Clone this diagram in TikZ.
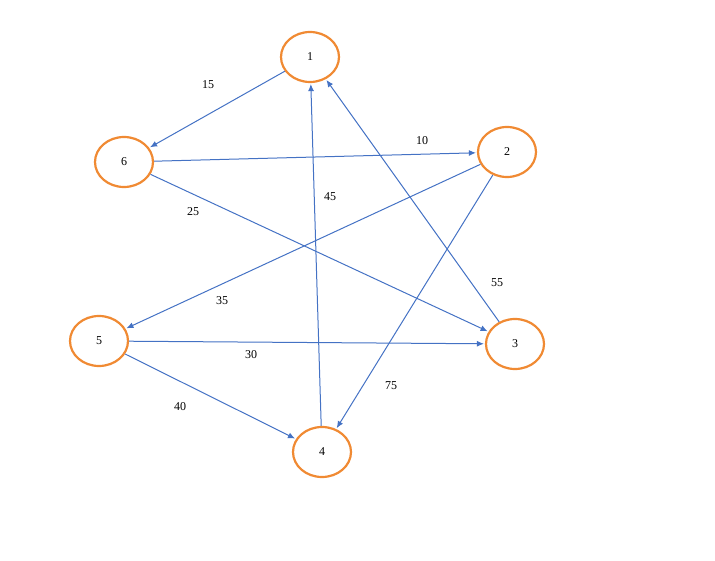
\documentclass[tikz,border=0pt]{standalone}
\usepackage{fontspec}
\setmainfont{Liberation Serif}
\usetikzlibrary{shapes.geometric,arrows.meta}
\definecolor{org}{HTML}{F08A33}
\definecolor{blu}{HTML}{4472C4}
\begin{document}
\begin{tikzpicture}[x=1pt,y=-1pt,
  vert/.style={ellipse,draw=org,line width=2.2pt,minimum width=58pt,minimum height=50pt,inner sep=0pt,font=\fontsize{12}{14}\selectfont},
  edge/.style={draw=blu,line width=1pt,-{Latex[length=7pt,width=6pt]},shorten >=1pt},
  lab/.style={font=\fontsize{12}{14}\selectfont}]
\useasboundingbox (0,0) rectangle (715,561);
\node[vert] (n1) at (310,57) {1};
\node[vert] (n2) at (507,152) {2};
\node[vert] (n6) at (124,162) {6};
\node[vert] (n5) at (99,341) {5};
\node[vert] (n3) at (515,344) {3};
\node[vert] (n4) at (322,452) {4};
\draw[edge] (n1) -- (n6);
\draw[edge] (n6) -- (n2);
\draw[edge] (n6) -- (n3);
\draw[edge] (n2) -- (n5);
\draw[edge] (n2) -- (n4);
\draw[edge] (n3) -- (n1);
\draw[edge] (n4) -- (n1);
\draw[edge] (n5) -- (n3);
\draw[edge] (n5) -- (n4);
\node[lab] (l15) at (208,85) {15};
\node[lab] (l10) at (422,141) {10};
\node[lab] (l25) at (193,212) {25};
\node[lab] (l35) at (222,301) {35};
\node[lab] (l75) at (391,386) {75};
\node[lab] (l55) at (497,283) {55};
\node[lab] (l45) at (330,197) {45};
\node[lab] (l30) at (251,355) {30};
\node[lab] (l40) at (180,407) {40};
\end{tikzpicture}
\end{document}
